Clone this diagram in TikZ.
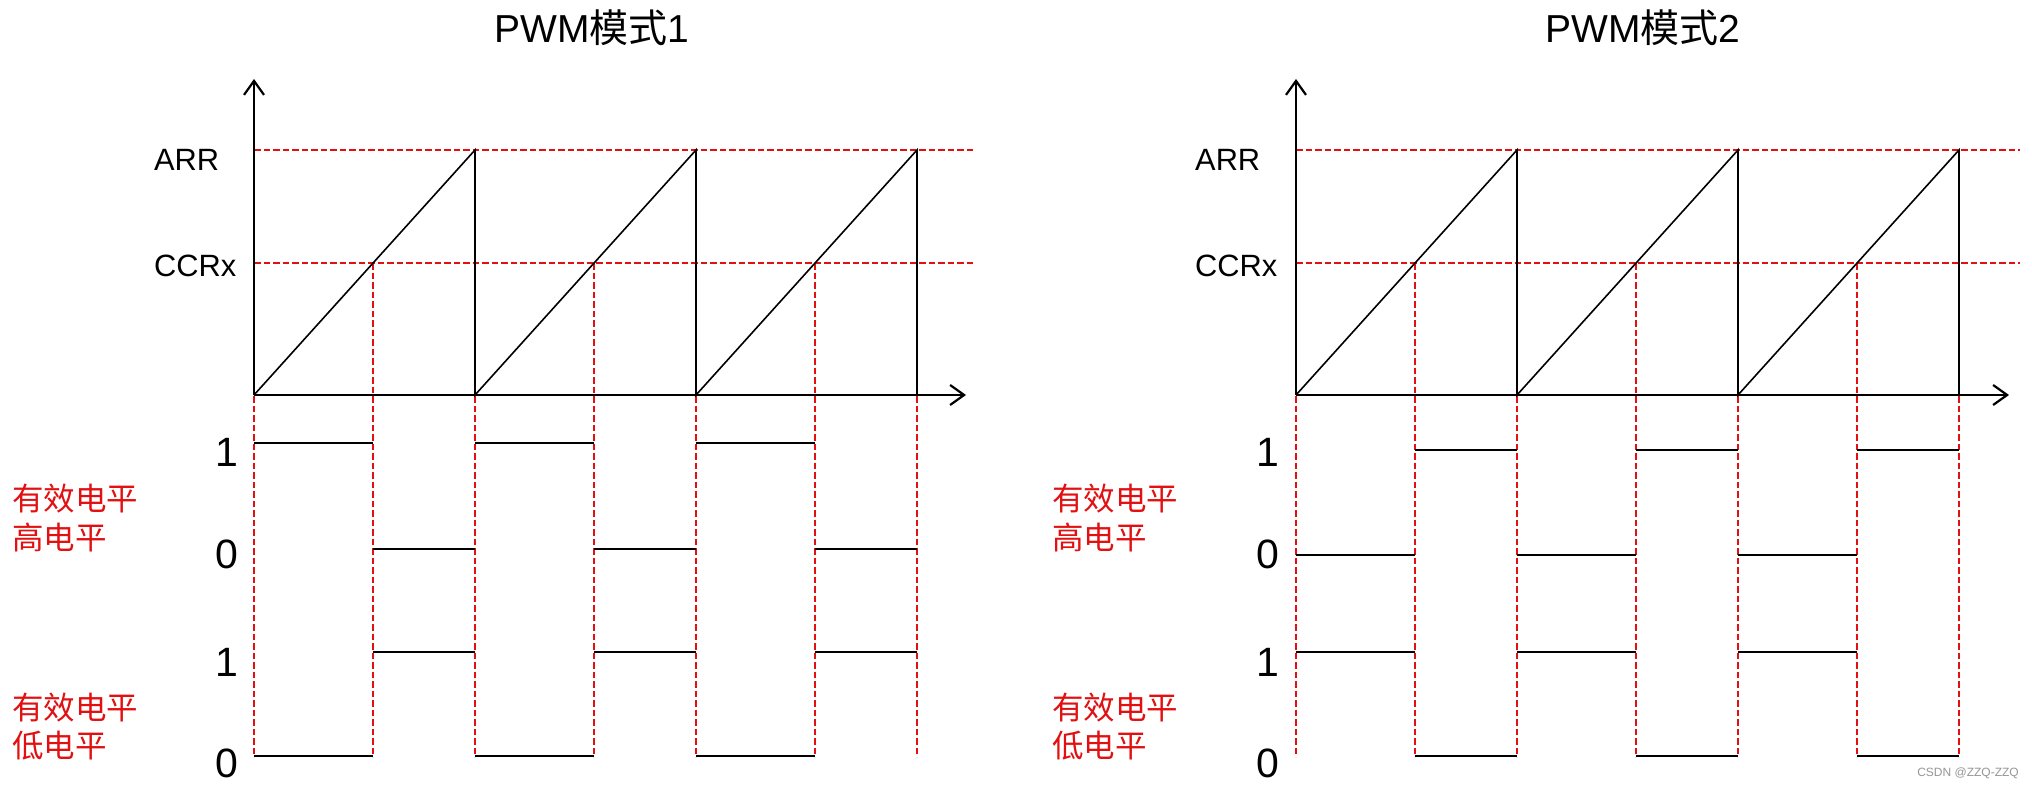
\documentclass[tikz,border=0pt]{standalone}
\usepackage{fontspec}
\setmainfont{Liberation Sans}
\newfontfamily\cjk{Noto Sans CJK SC}
\usetikzlibrary{arrows.meta}
\definecolor{dashred}{RGB}{226,16,16}
\definecolor{wmgray}{RGB}{150,150,150}
\tikzset{
  axisline/.style={draw=black,line width=2.2pt,-{Straight Barb[length=14pt,width=20pt,line width=2.2pt]}},
  sawline/.style={draw=black,line width=1.6pt,line join=miter},
  redline/.style={draw=dashred,line width=2pt,dash pattern=on 6.5pt off 3pt},
  waveline/.style={draw=black,line width=2.6pt},
  titletext/.style={font=\fontsize{39}{39}\selectfont,anchor=base,inner sep=0pt},
  regtext/.style={font=\fontsize{30.8}{30.8}\selectfont,anchor=base west,inner sep=0pt},
  digittext/.style={font=\fontsize{41}{41}\selectfont,anchor=base,inner sep=0pt},
  redtext/.style={font=\cjk\fontsize{31.5}{31.5}\selectfont,text=dashred,anchor=west,inner sep=0pt},
}
\begin{document}
\begin{tikzpicture}[x=1pt,y=-1pt]
\useasboundingbox[fill=white] (0,0) rectangle (2032,789);

% ================= Left panel: PWM mode 1 =================
\begin{scope}[xshift=254pt]
  \node[titletext] (Ltitle) at (338,43) {PWM{\cjk 模式}1};
  \coordinate (Lo) at (0,395);
  \coordinate (Ltop) at (0,79);
  \coordinate (Lxend) at (712,395);
  % dashed reference levels
  \coordinate (LarrA) at (0,150);   \coordinate (LarrB) at (720,150);
  \coordinate (LccrA) at (0,263);   \coordinate (LccrB) at (720,263);
  \draw[redline] (LarrA) -- (LarrB);
  \draw[redline] (LccrA) -- (LccrB);
  % vertical dashed guides
  \foreach \x in {0,221,442,663} \draw[redline] (\x,396) -- (\x,757);
  \foreach \x in {119,340,561} \draw[redline] (\x,263) -- (\x,757);
  % sawtooth
  \coordinate (Lp0) at (0,395);   \coordinate (La1) at (221,150);
  \coordinate (Lp1) at (221,395); \coordinate (La2) at (442,150);
  \coordinate (Lp2) at (442,395); \coordinate (La3) at (663,150);
  \coordinate (Lp3) at (663,395);
  \draw[sawline] (Lp0) -- (La1) -- (Lp1) -- (La2) -- (Lp2) -- (La3) -- (Lp3);
  % axes
  \draw[axisline] (Lo) -- (Ltop);
  \draw[axisline] (Lo) -- (Lxend);
  % labels
  \node[regtext] (Larr) at (-100,171) {ARR};
  \node[regtext] (Lccr) at (-100,276) {CCRx};
  \node[digittext] (Lu1) at (-27,466) {1};
  \node[digittext] (Lu0) at (-27,568) {0};
  \node[digittext] (Ll1) at (-27,676) {1};
  \node[digittext] (Ll0) at (-27,777) {0};
  \node[redtext] (Lr1) at (-242,499) {有效电平};
  \node[redtext] (Lr2) at (-242,537) {高电平};
  \node[redtext] (Lr3) at (-242,708) {有效电平};
  \node[redtext] (Lr4) at (-242,746) {低电平};
  % waveforms
  \foreach \s/\e/\y in {0/119/443,119/221/549,221/340/443,340/442/549,442/561/443,561/663/549}
    \draw[waveline] (\s,\y) -- (\e,\y);
  \foreach \s/\e/\y in {0/119/756,119/221/652,221/340/756,340/442/652,442/561/756,561/663/652}
    \draw[waveline] (\s,\y) -- (\e,\y);
\end{scope}

% ================= Right panel: PWM mode 2 =================
\begin{scope}[xshift=1296pt]
  \node[titletext] (Rtitle) at (347,43) {PWM{\cjk 模式}2};
  \coordinate (Ro) at (0,395);
  \coordinate (Rtop) at (0,79);
  \coordinate (Rxend) at (713,395);
  \coordinate (RarrA) at (0,150);   \coordinate (RarrB) at (724,150);
  \coordinate (RccrA) at (0,263);   \coordinate (RccrB) at (724,263);
  \draw[redline] (RarrA) -- (RarrB);
  \draw[redline] (RccrA) -- (RccrB);
  \foreach \x in {0,221,442,663} \draw[redline] (\x,396) -- (\x,757);
  \foreach \x in {119,340,561} \draw[redline] (\x,263) -- (\x,757);
  \coordinate (Rp0) at (0,395);   \coordinate (Ra1) at (221,150);
  \coordinate (Rp1) at (221,395); \coordinate (Ra2) at (442,150);
  \coordinate (Rp2) at (442,395); \coordinate (Ra3) at (663,150);
  \coordinate (Rp3) at (663,395);
  \draw[sawline] (Rp0) -- (Ra1) -- (Rp1) -- (Ra2) -- (Rp2) -- (Ra3) -- (Rp3);
  \draw[axisline] (Ro) -- (Rtop);
  \draw[axisline] (Ro) -- (Rxend);
  \node[regtext] (Rarr) at (-101,171) {ARR};
  \node[regtext] (Rccr) at (-101,276) {CCRx};
  \node[digittext] (Ru1) at (-28,466) {1};
  \node[digittext] (Ru0) at (-28,568) {0};
  \node[digittext] (Rl1) at (-28,676) {1};
  \node[digittext] (Rl0) at (-28,777) {0};
  \node[redtext] (Rr1) at (-244,499) {有效电平};
  \node[redtext] (Rr2) at (-244,537) {高电平};
  \node[redtext] (Rr3) at (-244,708) {有效电平};
  \node[redtext] (Rr4) at (-244,746) {低电平};
  \foreach \s/\e/\y in {0/119/555,119/221/450,221/340/555,340/442/450,442/561/555,561/663/450}
    \draw[waveline] (\s,\y) -- (\e,\y);
  \foreach \s/\e/\y in {0/119/652,119/221/756,221/340/652,340/442/756,442/561/652,561/663/756}
    \draw[waveline] (\s,\y) -- (\e,\y);
\end{scope}

\node[font=\fontsize{12}{12}\selectfont,text=wmgray,inner sep=0pt] (wm) at (1968,773) {CSDN @ZZQ-ZZQ};
\end{tikzpicture}
\end{document}
